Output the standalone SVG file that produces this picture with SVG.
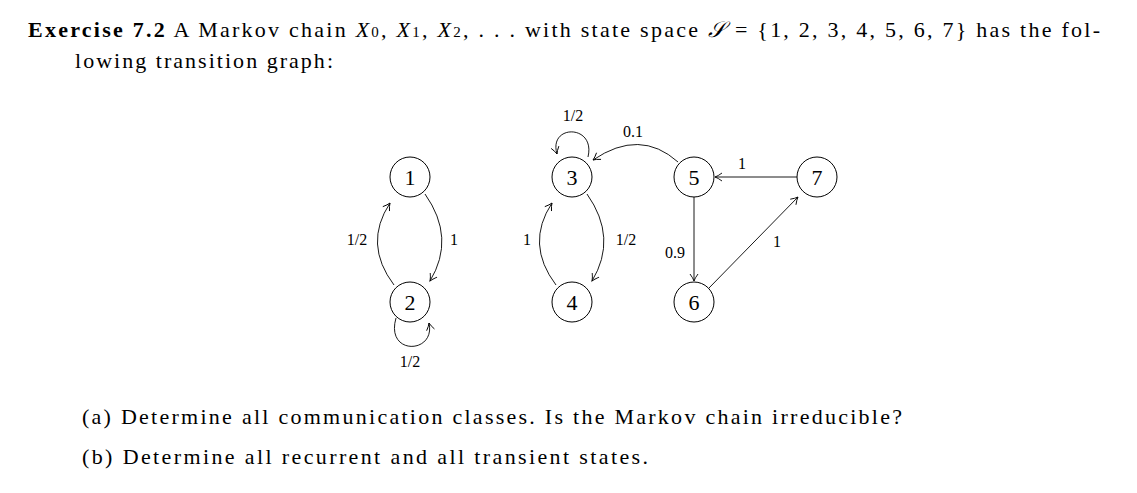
<svg xmlns="http://www.w3.org/2000/svg" width="1137" height="493" viewBox="0 0 1137 493">
<style>
text{font-family:"Liberation Serif","DejaVu Serif",serif;fill:#000}
.t{font-size:22px}
.l{font-size:16px}
.n{font-size:22px}
circle{fill:#fff;stroke:#000;stroke-width:1}
.e{fill:none;stroke:#000;stroke-width:0.9}
</style>
<defs>
<marker id="a" markerWidth="10" markerHeight="10" refX="8" refY="5" orient="auto" markerUnits="userSpaceOnUse">
<path d="M1,1 Q5,4 8,5 Q5,6 1,9" fill="none" stroke="#000" stroke-width="0.9"/>
</marker>
</defs>
<rect width="1137" height="493" fill="#fff"/>
<text class="t" x="28" y="37" textLength="1072" lengthAdjust="spacing"><tspan font-weight="bold">Exercise 7.2</tspan> A Markov chain <tspan font-style="italic">X</tspan><tspan font-size="15">0</tspan>, <tspan font-style="italic">X</tspan><tspan font-size="15">1</tspan>, <tspan font-style="italic">X</tspan><tspan font-size="15">2</tspan>, . . . with state space <tspan font-style="italic">𝒮</tspan> = {1, 2, 3, 4, 5, 6, 7} has the fol-</text>
<text class="t" x="75" y="68" textLength="258" lengthAdjust="spacing">lowing transition graph:</text>
<text class="t" x="82" y="424" textLength="820" lengthAdjust="spacing">(a) Determine all communication classes. Is the Markov chain irreducible?</text>
<text class="t" x="82" y="464" textLength="566" lengthAdjust="spacing">(b) Determine all recurrent and all transient states.</text>
<g id="connectors">
<path class="e" d="M425,194 Q456,238 430,281" marker-end="url(#a)"/>
<path class="e" d="M394,285 Q363,244 390,203" marker-end="url(#a)"/>
<path class="e" d="M587,194 Q618,238 592,281" marker-end="url(#a)"/>
<path class="e" d="M556,285 Q525,244 552,203" marker-end="url(#a)"/>
<path class="e" d="M396,318 C385,356 436,354 429,323" marker-end="url(#a)"/>
<path class="e" d="M588,157 C596,124 548,124 557,154" marker-end="url(#a)"/>
<path class="e" d="M678,162 Q640,128 593,160" marker-end="url(#a)"/>
<path class="e" d="M797,177 L715,177" marker-end="url(#a)"/>
<path class="e" d="M694,197 L694,281" marker-end="url(#a)"/>
<path class="e" d="M709,288 L798,197" marker-end="url(#a)"/>
</g>
<g id="edge-labels" class="l">
<text x="357" y="245" text-anchor="middle">1/2</text>
<text x="454" y="245" text-anchor="middle">1</text>
<text x="410" y="367" text-anchor="middle">1/2</text>
<text x="527" y="245" text-anchor="middle">1</text>
<text x="626" y="245" text-anchor="middle">1/2</text>
<text x="573" y="121" text-anchor="middle">1/2</text>
<text x="633" y="137" text-anchor="middle">0.1</text>
<text x="742" y="169" text-anchor="middle">1</text>
<text x="675" y="258" text-anchor="middle">0.9</text>
<text x="777" y="247" text-anchor="middle">1</text>
</g>
<g id="n1"><circle cx="410" cy="177" r="20"/><text class="n" x="410" y="185" text-anchor="middle">1</text></g>
<g id="n2"><circle cx="410" cy="302" r="20"/><text class="n" x="410" y="310" text-anchor="middle">2</text></g>
<g id="n3"><circle cx="572" cy="177" r="20"/><text class="n" x="572" y="185" text-anchor="middle">3</text></g>
<g id="n4"><circle cx="572" cy="302" r="20"/><text class="n" x="572" y="310" text-anchor="middle">4</text></g>
<g id="n5"><circle cx="694" cy="177" r="20"/><text class="n" x="694" y="185" text-anchor="middle">5</text></g>
<g id="n6"><circle cx="694" cy="302" r="20"/><text class="n" x="694" y="310" text-anchor="middle">6</text></g>
<g id="n7"><circle cx="817" cy="177" r="20"/><text class="n" x="817" y="185" text-anchor="middle">7</text></g>
</svg>
